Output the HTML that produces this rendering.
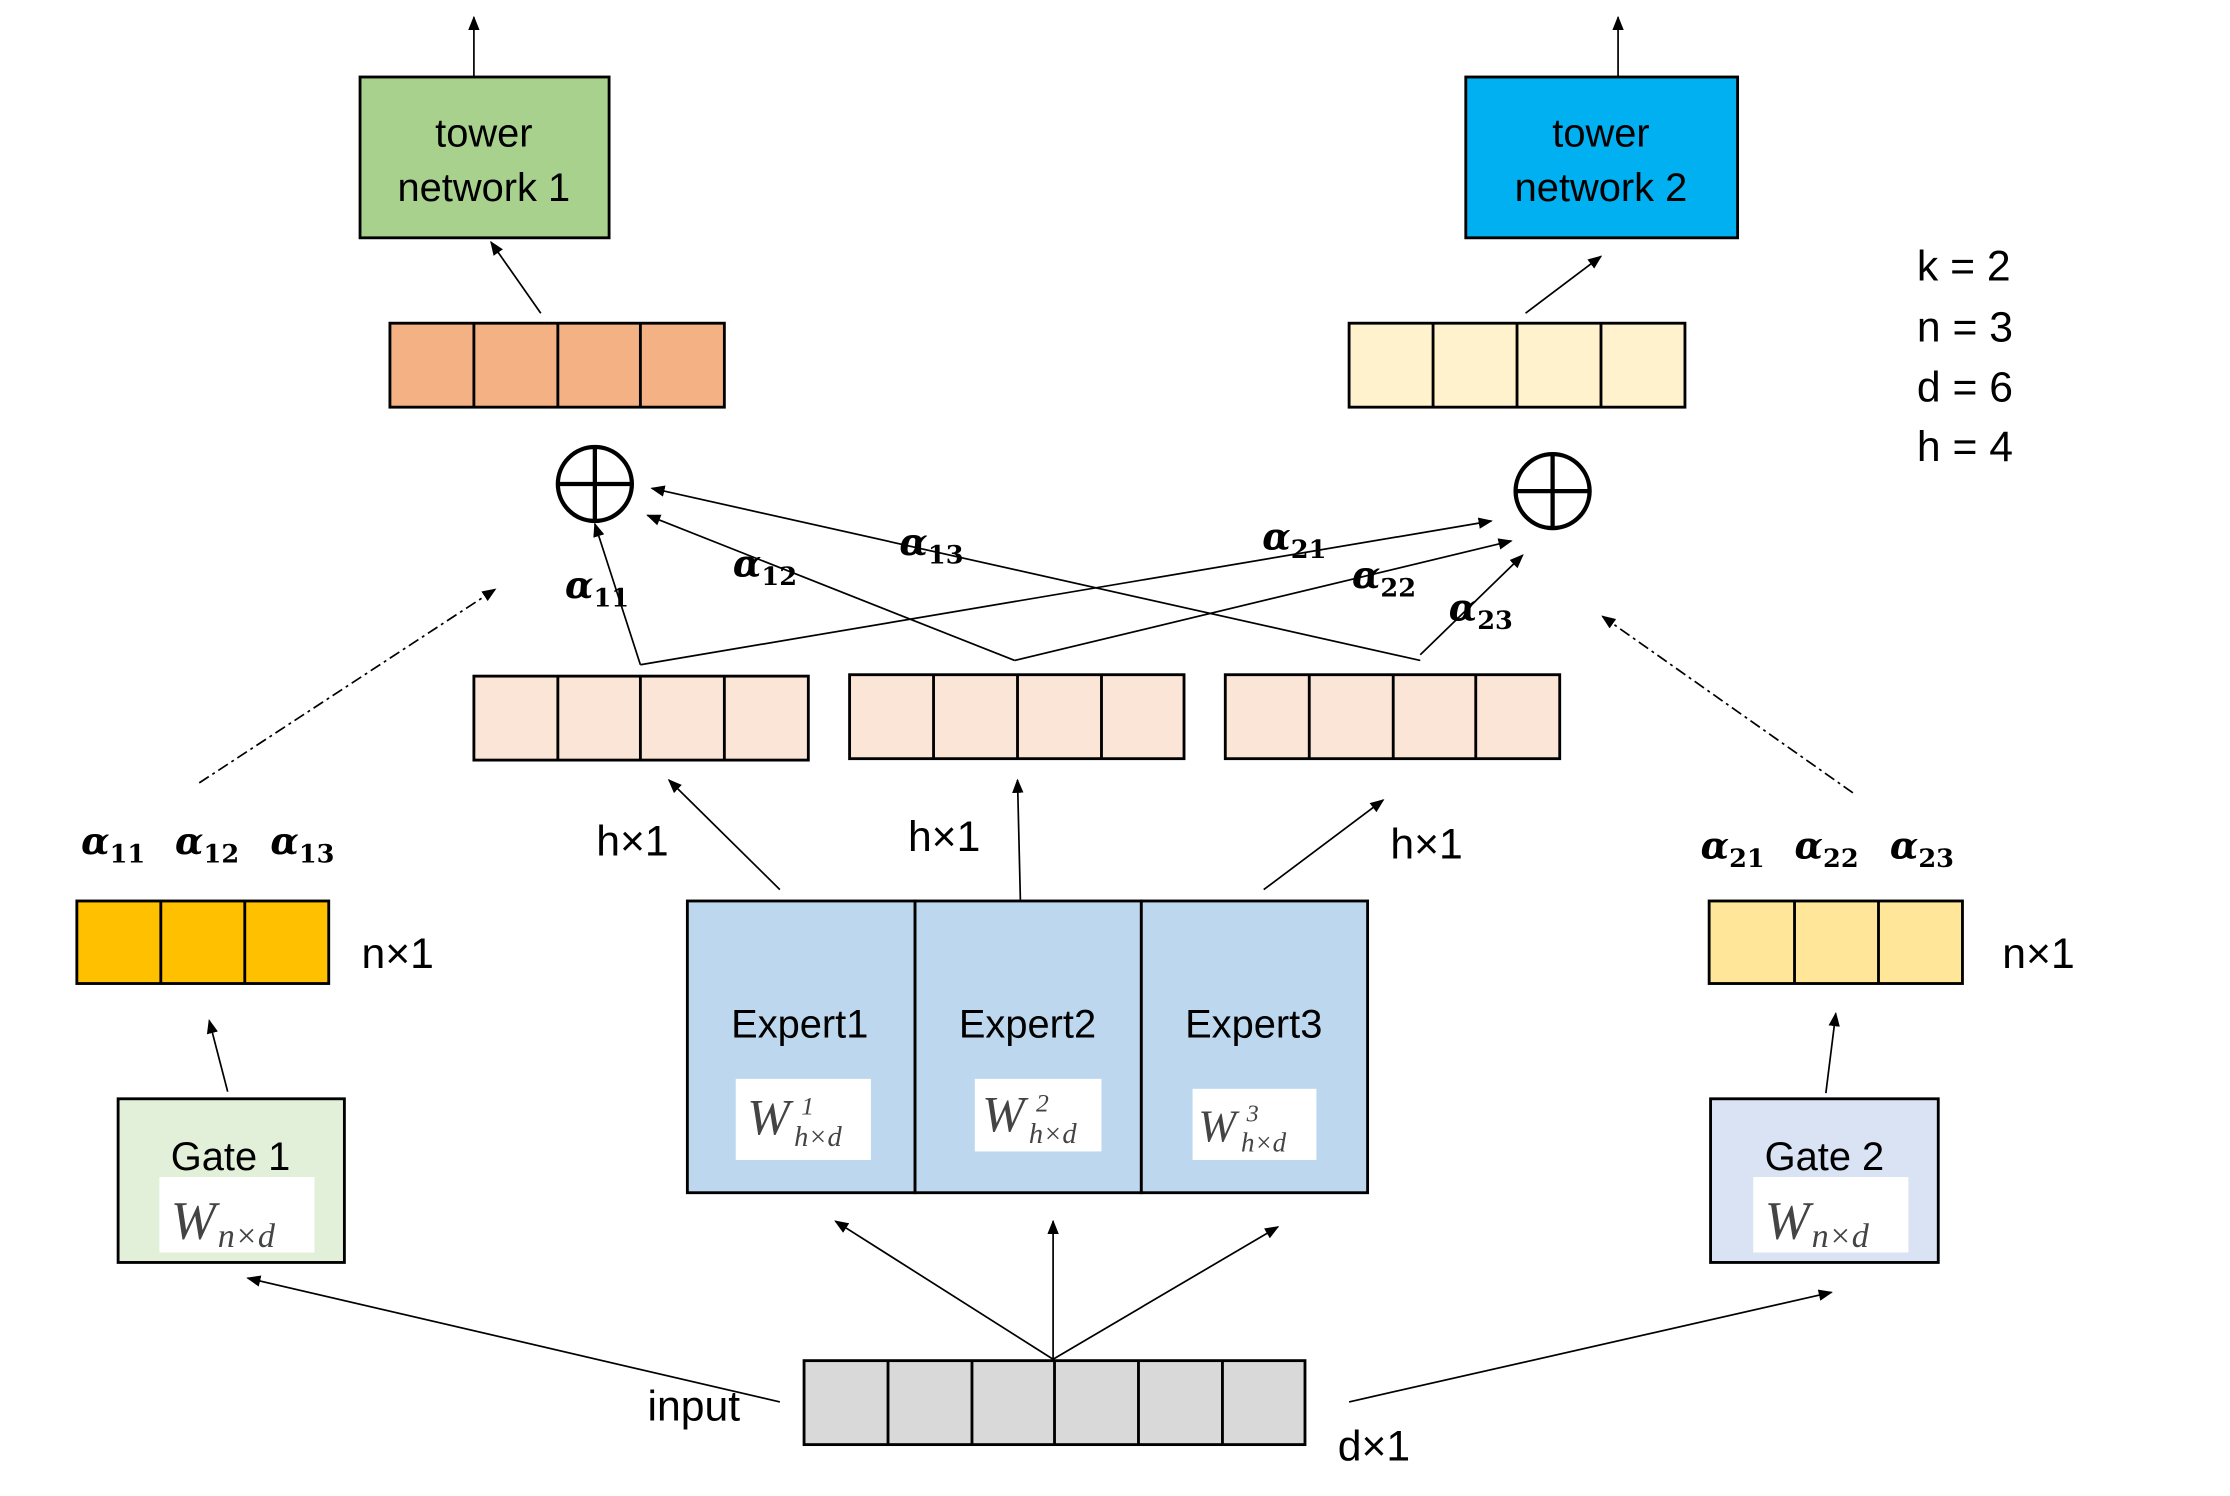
<!DOCTYPE html>
<html><head><meta charset="utf-8"><style>
html,body{margin:0;padding:0;background:#fff}
svg{display:block}
text{font-family:"Liberation Sans","DejaVu Sans",sans-serif;fill:#000}
.m{font-family:"Liberation Serif","DejaVu Serif",serif;font-style:italic;fill:#444}
.a{font-family:"DejaVu Serif","Liberation Serif",serif;font-style:italic;font-weight:bold;fill:#000}
.a tspan{font-style:normal}
</style></head><body>
<svg width="2230" height="1496" viewBox="0 0 1567 1051" xmlns="http://www.w3.org/2000/svg">
<defs><marker id="ar" markerWidth="10" markerHeight="8" refX="9" refY="4" orient="auto" markerUnits="userSpaceOnUse"><path d="M0,0 L10,4 L0,8 z" fill="#000"/></marker></defs>
<g stroke="#000" stroke-width="1.2" fill="none" marker-end="url(#ar)">
<line x1="333" y1="54" x2="333" y2="12"/>
<line x1="1137" y1="54" x2="1137" y2="12"/>
<line x1="380" y1="220" x2="345" y2="170"/>
<line x1="1072" y1="220" x2="1125" y2="180"/>
<line x1="450" y1="467" x2="418" y2="368"/>
<line x1="450" y1="467" x2="1048" y2="366"/>
<line x1="713" y1="464" x2="455" y2="362"/>
<line x1="713" y1="464" x2="1062" y2="380"/>
<line x1="998" y1="464" x2="458" y2="343"/>
<line x1="998" y1="460" x2="1070" y2="390"/>
<line x1="140" y1="550" x2="348" y2="414" stroke-dasharray="8,3,2,3"/>
<line x1="1302" y1="557" x2="1126" y2="433" stroke-dasharray="8,3,2,3"/>
<line x1="160" y1="767" x2="147" y2="717"/>
<line x1="1283" y1="768" x2="1290" y2="712"/>
<line x1="548" y1="625" x2="470" y2="548"/>
<line x1="717" y1="632" x2="715" y2="548"/>
<line x1="888" y1="625" x2="972" y2="562"/>
<line x1="740" y1="955" x2="587" y2="858"/>
<line x1="740" y1="955" x2="740" y2="858"/>
<line x1="740" y1="955" x2="898" y2="862"/>
<line x1="548" y1="985" x2="174" y2="898"/>
<line x1="948" y1="985" x2="1287" y2="908"/>
</g>
<g stroke="#000" stroke-width="2">
<rect x="253" y="54" width="175" height="113" fill="#a9d18e"/>
<rect x="1030" y="54" width="191" height="113" fill="#00b0f0"/>
<rect x="83" y="772" width="159" height="115" fill="#e2f0d9"/>
<rect x="1202" y="772" width="160" height="115" fill="#dae3f3"/>
<rect x="483" y="633" width="160" height="205" fill="#bdd7ee"/>
<rect x="643" y="633" width="159" height="205" fill="#bdd7ee"/>
<rect x="802" y="633" width="159" height="205" fill="#bdd7ee"/>
</g>
<g stroke="#000" stroke-width="2">
<rect x="274" y="227" width="235" height="59" fill="#f4b183"/><path d="M333,227v59M392,227v59M450,227v59"/>
<rect x="948" y="227" width="236" height="59" fill="#fff2cc"/><path d="M1007,227v59M1066,227v59M1125,227v59"/>
<rect x="333" y="475" width="235" height="59" fill="#fbe5d6"/><path d="M392,475v59M450,475v59M509,475v59"/>
<rect x="597" y="474" width="235" height="59" fill="#fbe5d6"/><path d="M656,474v59M715,474v59M774,474v59"/>
<rect x="861" y="474" width="235" height="59" fill="#fbe5d6"/><path d="M920,474v59M979,474v59M1037,474v59"/>
<rect x="54" y="633" width="177" height="58" fill="#ffc000"/><path d="M113,633v58M172,633v58"/>
<rect x="1201" y="633" width="178" height="58" fill="#ffe699"/><path d="M1261,633v58M1320,633v58"/>
<rect x="565" y="956" width="352" height="59" fill="#d9d9d9"/><path d="M624,956v59M683,956v59M741,956v59M800,956v59M859,956v59"/>
<circle cx="418" cy="340" r="26" fill="#fff" stroke-width="3"/><path d="M392,340h52M418,314v52" stroke-width="3"/>
<circle cx="1091" cy="345" r="26" fill="#fff" stroke-width="3"/><path d="M1065,345h52M1091,319v52" stroke-width="3"/>
</g>
<g fill="#fff">
<rect x="112" y="827" width="109" height="53"/><rect x="1232" y="827" width="109" height="53"/>
<rect x="517" y="758" width="95" height="57"/><rect x="685" y="758" width="89" height="51"/><rect x="838" y="765" width="87" height="50"/>
</g>
<g font-size="28" text-anchor="middle">
<text x="340" y="103">tower</text><text x="340" y="141">network 1</text>
<text x="1125" y="103">tower</text><text x="1125" y="141">network 2</text>
<text x="162" y="822">Gate 1</text><text x="1282" y="822">Gate 2</text>
<text x="562" y="729">Expert1</text><text x="722" y="729">Expert2</text><text x="881" y="729">Expert3</text>
</g>
<g font-size="30">
<text x="419" y="601">h×1</text><text x="638" y="598">h×1</text><text x="977" y="603">h×1</text>
<text x="254" y="680">n×1</text><text x="1407" y="680">n×1</text>
<text x="455" y="998">input</text><text x="940" y="1026">d×1</text>
<text x="1347" y="197">k = 2</text><text x="1347" y="240">n = 3</text><text x="1347" y="282">d = 6</text><text x="1347" y="324">h = 4</text>
</g>
<text class="m" x="120" y="870" font-size="38">W</text><text class="m" x="153" y="876" font-size="24">n×d</text>
<text class="m" x="1240" y="870" font-size="38">W</text><text class="m" x="1273" y="876" font-size="24">n×d</text>
<text class="m" x="525" y="797" font-size="36">W</text><text class="m" x="563" y="783" font-size="18">1</text><text class="m" x="558" y="805" font-size="20">h×d</text>
<text class="m" x="690" y="795" font-size="36">W</text><text class="m" x="728" y="781" font-size="18">2</text><text class="m" x="723" y="803" font-size="20">h×d</text>
<text class="m" x="842" y="802" font-size="32">W</text><text class="m" x="876" y="788" font-size="17">3</text><text class="m" x="872" y="809" font-size="19">h×d</text>
<g font-size="26">
<text class="a" x="57" y="600">α<tspan font-size="18" dy="6">11</tspan></text>
<text class="a" x="123" y="600">α<tspan font-size="18" dy="6">12</tspan></text>
<text class="a" x="190" y="600">α<tspan font-size="18" dy="6">13</tspan></text>
<text class="a" x="1195" y="603">α<tspan font-size="18" dy="6">21</tspan></text>
<text class="a" x="1261" y="603">α<tspan font-size="18" dy="6">22</tspan></text>
<text class="a" x="1328" y="603">α<tspan font-size="18" dy="6">23</tspan></text>
<text class="a" x="397" y="420">α<tspan font-size="18" dy="6">11</tspan></text>
<text class="a" x="515" y="405">α<tspan font-size="18" dy="6">12</tspan></text>
<text class="a" x="632" y="390">α<tspan font-size="18" dy="6">13</tspan></text>
<text class="a" x="887" y="386">α<tspan font-size="18" dy="6">21</tspan></text>
<text class="a" x="950" y="413">α<tspan font-size="18" dy="6">22</tspan></text>
<text class="a" x="1018" y="436">α<tspan font-size="18" dy="6">23</tspan></text>
</g>
</svg>
</body></html>
